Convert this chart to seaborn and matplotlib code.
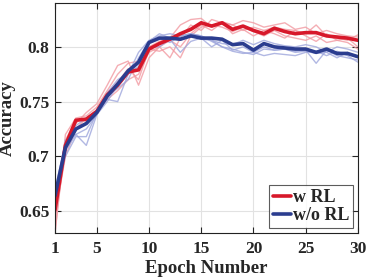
import numpy as np
import pandas as pd
import matplotlib
matplotlib.use("Agg")
import matplotlib.pyplot as plt
import seaborn as sns

sns.set_style("ticks")
plt.rcParams['font.family'] = ['Liberation Serif', 'DejaVu Serif']
plt.rcParams['font.weight'] = 'bold'

epochs = list(range(1, 31))

w_rl = [0.651, 0.710, 0.733, 0.734, 0.741, 0.756, 0.765, 0.777, 0.779, 0.798,
        0.803, 0.807, 0.812, 0.816, 0.822, 0.819, 0.822, 0.816, 0.819, 0.815,
        0.812, 0.817, 0.814, 0.812, 0.813, 0.813, 0.810, 0.809, 0.808, 0.806]
wo_rl = [0.664, 0.708, 0.725, 0.730, 0.740, 0.755, 0.766, 0.778, 0.786, 0.804,
         0.808, 0.808, 0.807, 0.810, 0.808, 0.808, 0.807, 0.802, 0.803, 0.797,
         0.803, 0.800, 0.799, 0.798, 0.798, 0.795, 0.798, 0.794, 0.794, 0.791]

w_rl_runs = [
    [0.630, 0.720, 0.735, 0.737, 0.745, 0.760, 0.775, 0.785, 0.787, 0.800,
     0.805, 0.808, 0.820, 0.825, 0.826, 0.818, 0.823, 0.820, 0.824, 0.822,
     0.818, 0.820, 0.822, 0.816, 0.818, 0.812, 0.815, 0.812, 0.810, 0.809],
    [0.640, 0.705, 0.730, 0.740, 0.748, 0.765, 0.783, 0.787, 0.765, 0.790,
     0.800, 0.790, 0.808, 0.820, 0.815, 0.825, 0.822, 0.820, 0.815, 0.818,
     0.815, 0.812, 0.808, 0.815, 0.810, 0.805, 0.812, 0.806, 0.808, 0.800],
    [0.630, 0.715, 0.733, 0.732, 0.740, 0.752, 0.760, 0.770, 0.775, 0.795,
     0.800, 0.806, 0.800, 0.812, 0.820, 0.815, 0.822, 0.812, 0.816, 0.810,
     0.815, 0.818, 0.816, 0.815, 0.812, 0.820, 0.810, 0.808, 0.806, 0.811],
    [0.645, 0.700, 0.725, 0.735, 0.742, 0.758, 0.768, 0.780, 0.770, 0.798,
     0.796, 0.800, 0.790, 0.810, 0.818, 0.820, 0.818, 0.814, 0.818, 0.814,
     0.810, 0.815, 0.810, 0.808, 0.806, 0.810, 0.804, 0.806, 0.804, 0.798],
]
wo_rl_runs = [
    [0.665, 0.715, 0.720, 0.725, 0.738, 0.750, 0.765, 0.775, 0.795, 0.806,
     0.810, 0.812, 0.810, 0.812, 0.810, 0.806, 0.803, 0.802, 0.806, 0.802,
     0.806, 0.803, 0.801, 0.800, 0.802, 0.800, 0.795, 0.800, 0.798, 0.795],
    [0.660, 0.700, 0.718, 0.718, 0.740, 0.752, 0.750, 0.775, 0.785, 0.800,
     0.800, 0.807, 0.795, 0.805, 0.808, 0.800, 0.806, 0.797, 0.800, 0.795,
     0.800, 0.797, 0.798, 0.796, 0.797, 0.785, 0.797, 0.792, 0.790, 0.788],
    [0.670, 0.712, 0.728, 0.735, 0.742, 0.758, 0.770, 0.776, 0.782, 0.804,
     0.808, 0.804, 0.810, 0.812, 0.810, 0.805, 0.800, 0.798, 0.795, 0.793,
     0.798, 0.797, 0.798, 0.795, 0.796, 0.794, 0.795, 0.790, 0.795, 0.790],
    [0.650, 0.705, 0.720, 0.710, 0.738, 0.755, 0.762, 0.770, 0.790, 0.805,
     0.812, 0.808, 0.806, 0.810, 0.807, 0.806, 0.800, 0.796, 0.794, 0.795,
     0.792, 0.794, 0.793, 0.792, 0.795, 0.796, 0.792, 0.796, 0.792, 0.786],
]

xticks = [1, 5, 10, 15, 20, 25, 30]
yticks = [0.65, 0.7, 0.75, 0.8]
ytick_labels = ["0.65", "0.7", "0.75", "0.8"]

red = "#d7182a"
blue = "#2b3d8f"
light_red = "#f29aa2"
light_blue = "#9ea6dc"

fig = plt.figure(figsize=(3.69, 2.80), dpi=100)
ax = fig.add_axes([0.149, 0.168, 0.821, 0.821])

for run in w_rl_runs:
    sns.lineplot(x=epochs, y=run, ax=ax, color=light_red, lw=1.0, alpha=0.8)
for run in wo_rl_runs:
    sns.lineplot(x=epochs, y=run, ax=ax, color=light_blue, lw=1.0, alpha=0.8)
sns.lineplot(x=epochs, y=w_rl, ax=ax, color=red, lw=2.6, label="w RL")
sns.lineplot(x=epochs, y=wo_rl, ax=ax, color=blue, lw=2.6, label="w/o RL")

ax.set_xlim(1, 30)
ax.set_ylim(0.63, 0.84)
ax.set_xticks(xticks)
ax.set_xticklabels([str(t) for t in xticks])
ax.set_yticks(yticks)
ax.set_yticklabels(ytick_labels)
ax.grid(True, color="#e2e2e2", lw=0.8)
ax.set_axisbelow(True)
ax.tick_params(direction="in", length=4, width=0.8, top=True, right=True,
               labelsize=12.5)
ax.tick_params(axis="x", pad=6)
ax.tick_params(axis="y", pad=4)
for lab in ax.get_xticklabels() + ax.get_yticklabels():
    lab.set_fontweight("bold")
for s in ax.spines.values():
    s.set_color("#222222")
    s.set_linewidth(0.8)
ax.set_xlabel("Epoch Number", fontsize=13.5, fontweight="bold", labelpad=2)
ax.set_ylabel("Accuracy", fontsize=13.5, fontweight="bold", labelpad=2)

leg = ax.legend(loc="lower right", fontsize=13, frameon=True, fancybox=False,
                edgecolor="#333333", handlelength=1.0, handletextpad=0.1,
                borderpad=0.2, labelspacing=0.05, borderaxespad=0.3,
                borderaxespad_=None) if False else ax.legend(
                loc="lower right", fontsize=13, frameon=True, fancybox=False,
                edgecolor="#333333", handlelength=1.0, handletextpad=0.1,
                borderpad=0.2, labelspacing=0.05, borderaxespad=0.3)
leg.get_frame().set_linewidth(0.8)
for t in leg.get_texts():
    t.set_fontweight("bold")

fig.savefig("out.png", dpi=100)
